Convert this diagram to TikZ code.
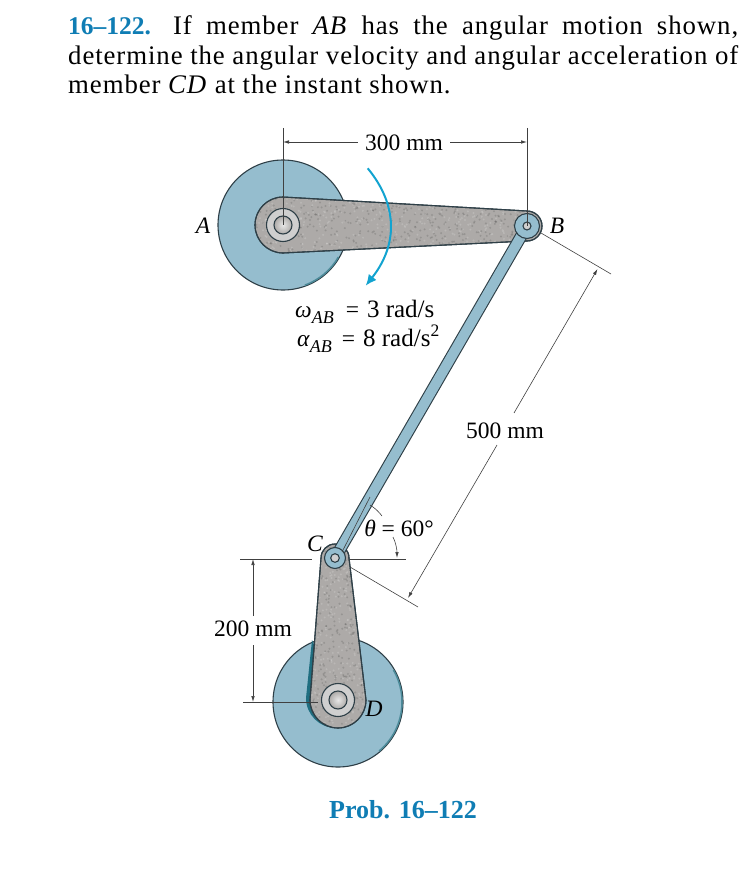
\documentclass[tikz,border=0pt]{standalone}
\usepackage{fontspec}
\setmainfont{Liberation Serif}
\newfontfamily\questfont[LetterSpace=3.4]{Liberation Serif}
\usetikzlibrary{shapes,arrows.meta,calc}
\definecolor{headblue}{HTML}{0F7DB4}
\definecolor{spinblue}{HTML}{12A3D0}
\definecolor{diskblue}{HTML}{95BDCE}
\definecolor{darkteal}{HTML}{1F6E80}
\definecolor{armgrey}{HTML}{ADAAA8}
\definecolor{ringgrey}{HTML}{CFCFCF}
\definecolor{edge}{HTML}{2E3F47}
\tikzstyle{line} = [draw, black!75, line width=0.6pt]
\tikzstyle{tipped} = [line, -{Latex[length=6pt, width=3.5pt]}]
\tikzstyle{disk} = [draw=edge, fill=diskblue, line width=1.1pt]
\tikzstyle{arm} = [draw=edge, fill=armgrey, line width=1.1pt]
\tikzstyle{armedge} = [draw=edge, line width=1.1pt]
\tikzstyle{ring} = [draw=edge, fill=ringgrey, line width=1.1pt]
\tikzstyle{ball} = [draw=edge, inner color=ringgrey!50, outer color=armgrey, line width=1.1pt]
\tikzstyle{link} = [draw=edge, fill=diskblue, line width=1.1pt]
\tikzstyle{label} = [inner sep=0pt, font=\fontsize{23.5}{26}\selectfont]
\newcommand{\armAB}{(283,197) arc[start angle=270, end angle=90, radius=28] -- (527,241) arc[start angle=90, end angle=-90, radius=15] -- cycle}
\newcommand{\armCD}{(321,558) arc[start angle=180, end angle=360, radius=14] -- (366,700) arc[start angle=0, end angle=180, radius=28] -- cycle}
% mottled surface of the arms
\newcommand{\speckle}[5]{
    \foreach \i in {1,...,#5} {
        \pgfmathsetmacro{\px}{#1+rnd*#3}
        \pgfmathsetmacro{\py}{#2+rnd*#4}
        \fill[black, opacity=0.13] (\px,\py) circle (1.1);
        \pgfmathsetmacro{\px}{#1+rnd*#3}
        \pgfmathsetmacro{\py}{#2+rnd*#4}
        \fill[white, opacity=0.16] (\px,\py) circle (1.1);
    }
}

\begin{document}
\begin{tikzpicture}[x=1pt, y=-1pt]
        \useasboundingbox (0,0) rectangle (742,880);
        \pgfmathsetseed{122}
        \coordinate (A) at (283,225);
        \coordinate (B) at (527,226);
        \coordinate (C) at (335,558);
        \coordinate (D) at (338,700);
        \node[anchor=base west, inner sep=0pt, text width=670pt, align=justify, font=\questfont\fontsize{26.8}{29.5}\selectfont] (question) at (68,35)
            {{\normalfont\fontsize{25.5}{29.5}\selectfont\bfseries\textcolor{headblue}{16–122.}}\hspace{22pt}If member \textit{AB} has the angular motion shown,\linebreak determine the angular velocity and angular acceleration of\linebreak member \textit{CD} at the instant shown.};
        % disks and arms
        \draw[disk] (A) circle (65);
        \draw[darkteal!80, line width=1.5pt] (A) ++(70:64) arc[start angle=70, end angle=30, radius=64];
        \draw[arm] \armAB;
        \begin{scope}
            \clip \armAB;
            \speckle{255}{195}{285}{60}{420}
        \end{scope}
        \draw[armedge] \armAB;
        \draw[disk] (338,702) circle (65);
        \draw[darkteal!80, line width=1.5pt] (338,702) ++(50:64) arc[start angle=50, end angle=-30, radius=64];
        \fill[darkteal] (312,640) -- (306,698) arc[start angle=180, end angle=90, radius=30] -- (D) -- cycle;
        \draw[arm] \armCD;
        \begin{scope}
            \clip \armCD;
            \speckle{308}{544}{60}{186}{320}
        \end{scope}
        \draw[armedge] \armCD;
        \draw[ring] (A) circle (16.5);
        \draw[ball] (A) circle (9);
        \draw[ring] (D) circle (16.5);
        \draw[ball] (D) circle (9);
        \draw[draw=edge, double=diskblue, double distance=10pt, line width=1.1pt] (B) -- (C);
        \draw[link] (B) circle (12.5);
        \draw[ring] (B) circle (4);
        \draw[link] (C) circle (10.5);
        \draw[ring] (C) circle (4.3);
        % 300 mm
        \coordinate (aup) at (283,128);
        \coordinate (bup) at (527,128);
        \draw[line] (aup) -- (A);
        \draw[line] (bup) -- (B);
        \node[label, anchor=base] (width) at (404,150) {300 mm};
        \draw[tipped] (width.west |- 0,142) ++(-7,0) -- (283,142);
        \draw[tipped] (width.east |- 0,142) ++(7,0) -- (527,142);
        % spin arrow
        \draw[spinblue, line width=2pt, -{Latex[length=11pt, width=10pt]}] (367.7,168.3) .. controls (398,205) and (398,245) .. (365.7,285.7);
        % names
        \node[label, anchor=base] (nameA) at (203,233) {\textit{A}};
        \node[label, anchor=base] (nameB) at (557,233) {\textit{B}};
        \node[label, anchor=base] (nameC) at (315,551) {\textit{C}};
        \node[label, anchor=base] (nameD) at (374,716) {\textit{D}};
        \node[label, anchor=base west] (omega) at (295,317) {\textit{ω}\raisebox{-6pt}{\fontsize{18}{18}\selectfont\textit{AB}}\hspace{12pt}=\hspace{8pt}\fontsize{25}{26}\selectfont 3 rad/s};
        \node[label, anchor=base west] (alpha) at (297,346) {\textit{α}\raisebox{-6pt}{\fontsize{18}{18}\selectfont\textit{AB}}\hspace{10pt}=\hspace{8pt}\fontsize{25}{26}\selectfont 8 rad/s\textsuperscript{2}};
        % 500 mm
        \coordinate (bout) at (541,233);
        \coordinate (bend) at (611,274);
        \coordinate (cout) at (350,567);
        \coordinate (cend) at (418,607);
        \draw[line] (bout) -- (bend);
        \draw[line] (cout) -- (cend);
        \node[label, anchor=base] (length) at (505,438) {500 mm};
        \coordinate (lenup) at (514,413);
        \coordinate (lendown) at (497,445);
        \draw[tipped] (lenup) -- (597.5,269);
        \draw[tipped] (lendown) -- (408,598);
        % angle
        \coordinate (tick) at (370,497);
        \coordinate (horiz) at (406,559);
        \draw[line] (tick) -- (342,552);
        \draw[line] (350,559) -- (horiz);
        \node[label, anchor=base] (angle) at (399,536) {\textit{θ} = 60°};
        \draw[line] (370,505) .. controls (375,508) and (379,512) .. (382,516);
        \draw[tipped] (393,537) .. controls (396,543) and (397,550) .. (397,558);
        % 200 mm
        \coordinate (cleft) at (240,559);
        \coordinate (cstop) at (312,559);
        \coordinate (dleft) at (243,702);
        \coordinate (dstop) at (318,702);
        \draw[line] (cleft) -- (cstop);
        \draw[line] (dleft) -- (dstop);
        \node[label, anchor=base] (height) at (253,636) {200 mm};
        \draw[tipped] (253,616) -- (253,559);
        \draw[tipped] (253,645) -- (253,702);
        \node[anchor=base, inner sep=0pt, text=headblue, font=\bfseries\fontsize{26}{28}\selectfont] (prob) at (403,818) {Prob. 16–122};
\end{tikzpicture}
\end{document}
